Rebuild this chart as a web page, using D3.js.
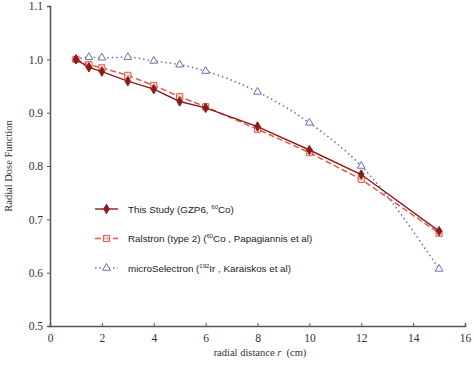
<!DOCTYPE html>
<html>
<head>
<meta charset="utf-8">
<script src="https://cdn.jsdelivr.net/npm/d3@7"></script>
<style>
	body { margin: 0; background: #fff; }
	svg { display: block; }
</style>
</head>
<body>
<div class="chart"></div>
<script>
	var radii = [1, 1.5, 2, 3, 4, 5, 6, 8, 10, 12, 15];
	var thisStudy = [1.0, 0.985, 0.977, 0.959, 0.944, 0.921, 0.909, 0.874, 0.83, 0.784, 0.678];
	var ralstron = [1.0, 0.99, 0.984, 0.97, 0.951, 0.93, 0.911, 0.869, 0.825, 0.775, 0.674];
	var microSel = [1.0, 1.004, 1.003, 1.004, 0.997, 0.99, 0.978, 0.939, 0.881, 0.8, 0.607];
	var xTicks = [0, 2, 4, 6, 8, 10, 12, 14, 16];
	var yTicks = [0.5, 0.6, 0.7, 0.8, 0.9, 1.0, 1.1];

	var width = 474,
		height = 367;

	var x = d3.scaleLinear().domain([0, 16]).range([50, 465]);
	var y = d3.scaleLinear().domain([0.5, 1.1]).range([326, 6]);

	var svg = d3.select(".chart").append("svg")
		.attr("width", width)
		.attr("height", height);

	var axisColor = "#555";

	// axes
	var xAxis = svg.append("g")
		.attr("transform", "translate(0," + y(0.5) + ")")
		.call(d3.axisBottom(x).tickValues(xTicks).tickSize(-3).tickPadding(8)
			.tickFormat(d3.format("d")));
	var yAxis = svg.append("g")
		.attr("transform", "translate(" + x(0) + ",0)")
		.call(d3.axisLeft(y).tickValues(yTicks).tickSize(3).tickPadding(4)
			.tickFormat(d3.format(".1f")));

	[xAxis, yAxis].forEach(function(a) {
		a.select(".domain").attr("stroke", axisColor).attr("stroke-width", 1.5);
		a.selectAll(".tick line").attr("stroke", axisColor);
		a.selectAll("text")
			.attr("fill", "#333")
			.style("font-family", "'Liberation Serif', serif")
			.style("font-size", "11.5px");
	});

	svg.append("text")
		.attr("x", 260).attr("y", 356)
		.attr("text-anchor", "middle")
		.style("font-family", "'Liberation Serif', serif")
		.style("font-size", "10.5px")
		.attr("fill", "#333")
		.html("radial distance <tspan font-style='italic'>r</tspan>&#160; (cm)");

	svg.append("text")
		.attr("transform", "translate(12,166) rotate(-90)")
		.attr("text-anchor", "middle")
		.style("font-family", "'Liberation Serif', serif")
		.style("font-size", "10.5px")
		.attr("fill", "#333")
		.text("Radial Dose Function");

	var series = [
		{ name: "this", values: thisStudy, color: "#8b1c1c", dash: null, curve: d3.curveLinear },
		{ name: "ral", values: ralstron, color: "#e0594c", dash: "6,3", curve: d3.curveLinear },
		{ name: "micro", values: microSel, color: "#6b6fb0", dash: "1.5,3", curve: d3.curveMonotoneX }
	];

	var line = d3.line()
		.x(function(d) { return x(d[0]); })
		.y(function(d) { return y(d[1]); });

	function pts(s) {
		return radii.map(function(r, i) { return [r, s.values[i]]; });
	}

	// draw micro first so the red lines sit on top
	[series[2], series[1], series[0]].forEach(function(s) {
		svg.append("path")
			.datum(pts(s))
			.attr("fill", "none")
			.attr("stroke", s.color)
			.attr("stroke-width", s.name == "this" ? 1.4 : 1.5)
			.attr("stroke-dasharray", s.dash)
			.attr("d", line.curve(s.curve));
		drawMarkers(svg.append("g"), s, pts(s));
	});

	function drawMarkers(g, s, data) {
		g.selectAll("path")
			.data(data)
			.enter().append("path")
			.attr("transform", function(d) { return "translate(" + x(d[0]) + "," + y(d[1]) + ")"; })
			.call(function(sel) { styleMarker(sel, s); });
	}

	function styleMarker(sel, s) {
		if (s.name == "this") {
			sel.attr("d", d3.symbol().type(d3.symbolDiamond).size(26))
				.attr("fill", "#8b1c1c").attr("stroke", "#8b1c1c");
		} else if (s.name == "ral") {
			sel.attr("d", d3.symbol().type(d3.symbolSquare).size(38))
				.attr("fill", "#f6d3c8").attr("fill-opacity", 0.7)
				.attr("stroke", "#e0594c").attr("stroke-width", 1);
		} else {
			sel.attr("d", d3.symbol().type(d3.symbolTriangle).size(26))
				.attr("fill", "#fff")
				.attr("stroke", "#6b6fb0").attr("stroke-width", 1);
		}
	}

	// legend
	var legendRows = [
		{ s: series[0], html: "This Study (GZP6, <tspan dy='-4' font-size='6px'>60</tspan><tspan dy='4'>Co)</tspan>" },
		{ s: series[1], html: "Ralstron (type 2) (<tspan dy='-4' font-size='6px'>60</tspan><tspan dy='4'>Co , Papagiannis et al)</tspan>" },
		{ s: series[2], html: "microSelectron (<tspan dy='-4' font-size='6px'>192</tspan><tspan dy='4'>Ir , Karaiskos et al)</tspan>" }
	];

	var legend = svg.append("g").selectAll("g")
		.data(legendRows)
		.enter().append("g")
		.attr("transform", function(d, i) { return "translate(95," + (209 + i * 29.5) + ")"; });

	legend.append("line")
		.attr("x1", 0).attr("x2", 23)
		.attr("stroke", function(d) { return d.s.color; })
		.attr("stroke-width", 1.4)
		.attr("stroke-dasharray", function(d) { return d.s.dash; });

	legend.append("path")
		.attr("transform", "translate(11.5,0)")
		.each(function(d) { styleMarker(d3.select(this), d.s); });

	legend.append("text")
		.attr("x", 33).attr("y", 3.5)
		.style("font-family", "'Liberation Sans', Arial, sans-serif")
		.style("font-size", "9.8px")
		.attr("fill", "#222")
		.html(function(d) { return d.html; });
</script>
</body>
</html>
